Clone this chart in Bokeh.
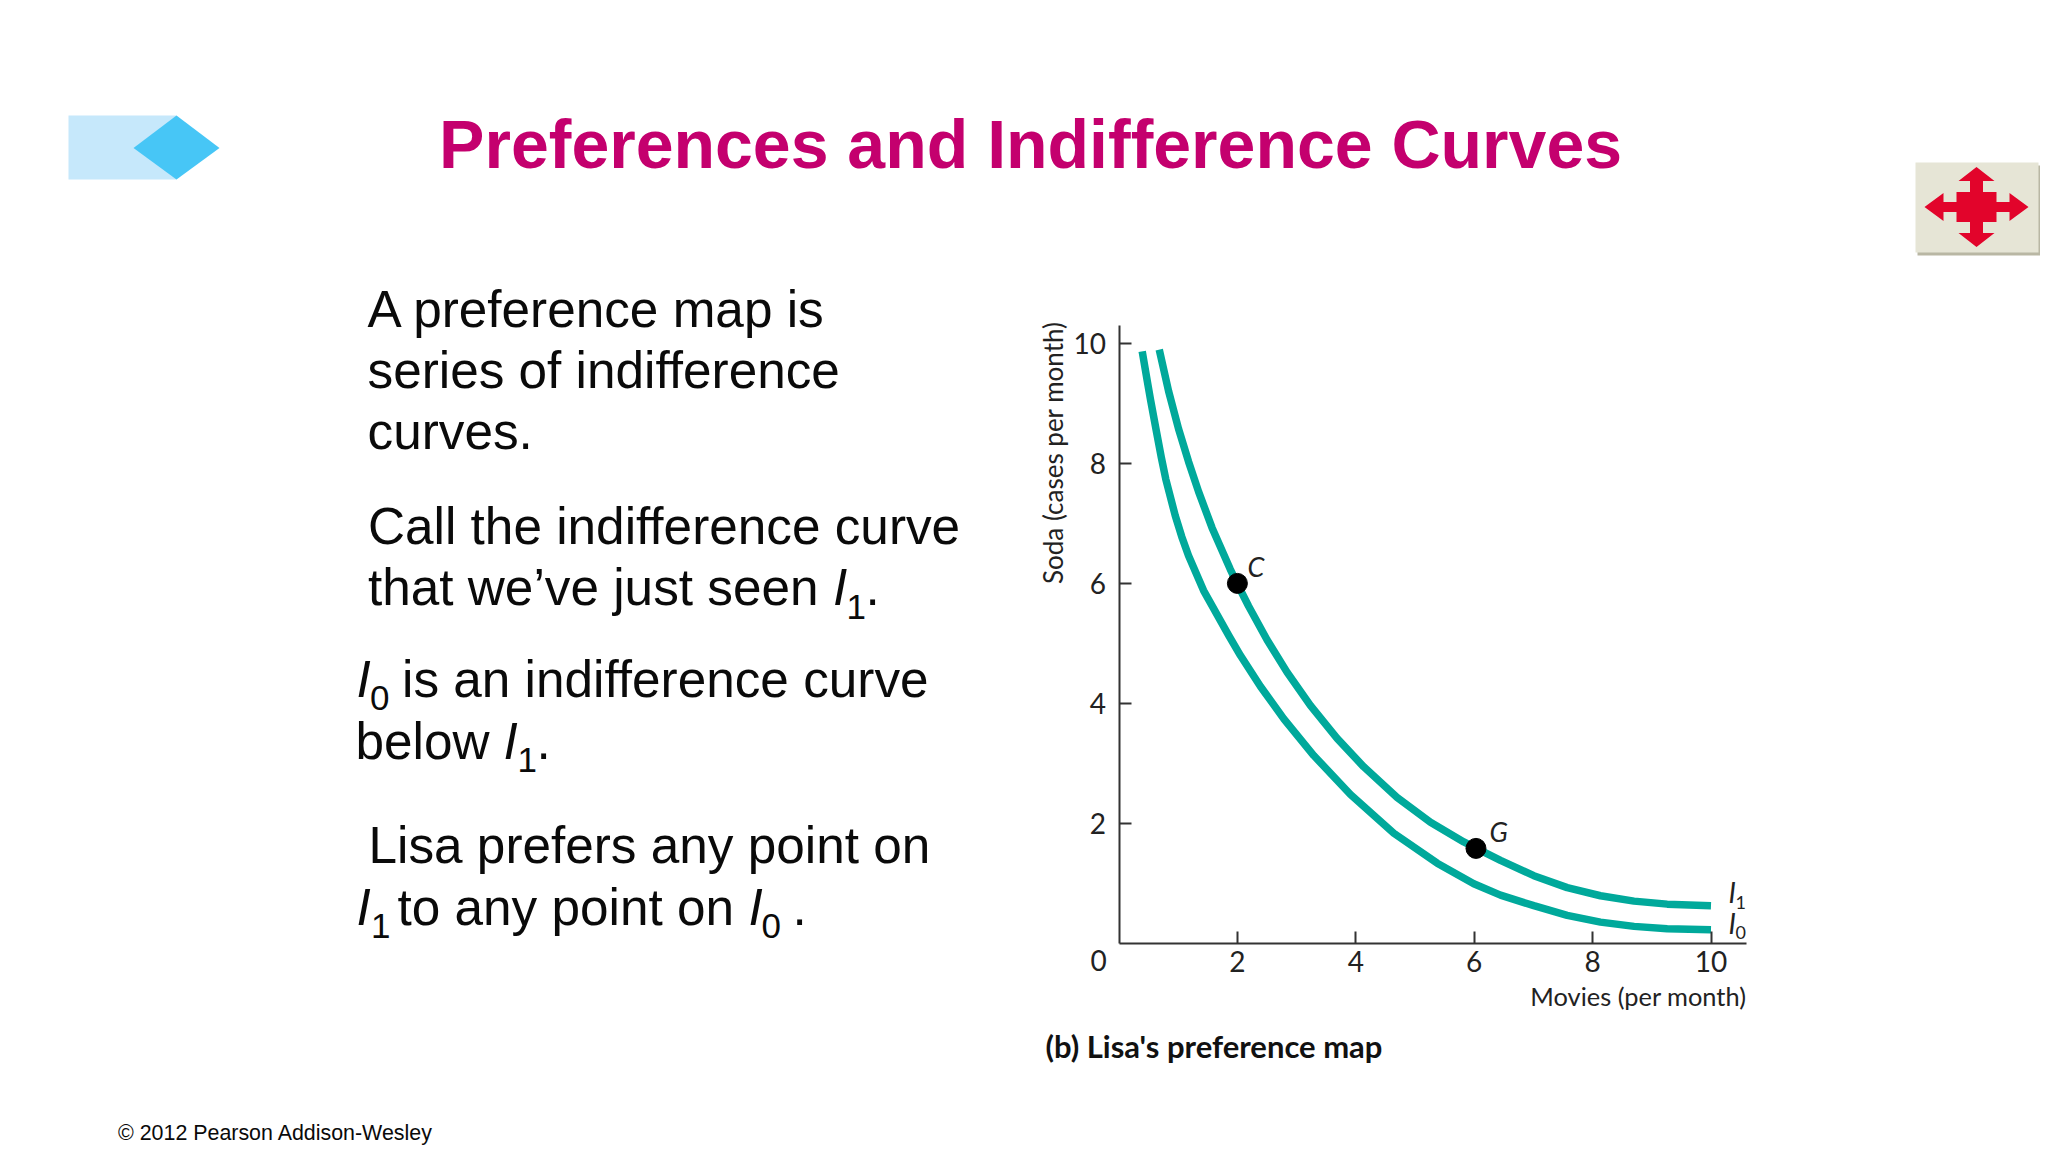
from math import pi
from bokeh.embed import file_html
from bokeh.models import FixedTicker, Label, LinearAxis, Range1d
from bokeh.plotting import figure
from bokeh.resources import INLINE

# ---- data ----
i1_x = [0.68, 0.837, 1.006, 1.175, 1.344, 1.571, 1.88, 2.0, 2.19, 2.5, 2.838, 3.232, 3.684, 4.134, 4.698, 5.261, 5.824, 6.03, 6.444, 7.007, 7.571, 8.133, 8.70, 9.26, 10.0]
i1_y = [9.90, 9.21, 8.577, 8.03, 7.53, 6.93, 6.235, 5.99, 5.62, 5.06, 4.52, 3.965, 3.414, 2.94, 2.43, 2.015, 1.688, 1.585, 1.38, 1.125, 0.925, 0.79, 0.70, 0.65, 0.624]
i0_x = [0.392, 0.48, 0.533, 0.629, 0.715, 0.79, 0.95, 1.06, 1.175, 1.429, 1.855, 2.052, 2.39, 2.784, 3.29, 3.91, 4.642, 5.375, 5.993, 6.444, 7.007, 7.571, 8.133, 8.70, 9.26, 10.0]
i0_y = [9.87, 9.36, 9.06, 8.55, 8.10, 7.74, 7.13, 6.78, 6.46, 5.88, 5.13, 4.797, 4.28, 3.741, 3.129, 2.479, 1.833, 1.333, 0.989, 0.80, 0.624, 0.462, 0.35, 0.279, 0.24, 0.224]
point_x = [2.0, 6.03]
point_y = [6.0, 1.58]
point_names = ["C", "G"]
x_ticks = [2, 4, 6, 8, 10]
y_ticks = [2, 4, 6, 8, 10]
x_label = "Movies (per month)"
y_label = "Soda (cases per month)"
title = "Preferences and Indifference Curves"
caption = "(b) Lisa's preference map"
copyright_text = "© 2012 Pearson Addison-Wesley"

# ---- page position <-> chart scale ----
X0, XU, Y0, YU = 1118.5, 59.2, 942.6, 59.95
def dx(px): return (px - X0) / XU
def dy(py): return (Y0 - py) / YU

W, H = 2040, 1150
p = figure(width=W, height=H, output_backend="svg", toolbar_location=None,
           x_axis_type=None, y_axis_type=None, min_border=0,
           x_range=Range1d(dx(0), dx(W)), y_range=Range1d(dy(H), dy(0)))
p.grid.visible = False
p.outline_line_color = None
p.background_fill_color = "white"
p.border_fill_color = "white"

def shape(xs, ys, color):
    p.patch([dx(v) for v in xs], [dy(v) for v in ys], fill_color=color, line_color=None)

def text(s, x, y, size, font="Liberation Sans", color="#0a0a0a", style="normal", align="left", angle=0):
    shift = 0.39 * size
    if angle:
        x -= shift
    else:
        y -= shift
    p.add_layout(Label(x=dx(x), y=dy(y), text=s, text_font=font, text_font_size=f"{size}px",
                       text_color=color, text_font_style=style, text_align=align,
                       text_baseline="alphabetic", angle=angle))

# left tab
shape([68, 176, 176, 68], [115, 115, 179, 179], "#C6E8FB")
shape([133, 176, 219, 176], [147.5, 115, 147.5, 179], "#47C6F6")

# right button
shape([1917, 2040, 2040, 1917], [165, 165, 255, 255], "#B9B7A4")
shape([1915, 2038, 2038, 1915], [162, 162, 252, 252], "#E6E5D6")
cx, cy = 1976, 206.5
cross_x = [-6.5, -6.5, -18, 0, 18, 6.5, 6.5, 20, 20, 33, 33, 52, 33, 33, 20, 20, 6.5, 6.5, 18, 0, -18, -6.5, -6.5, -20, -20, -33, -33, -52, -33, -33, -20, -20]
cross_y = [-15, -26, -26, -40, -26, -26, -15, -15, -5, -5, -14, 0, 14, 5, 5, 15, 15, 26, 26, 40, 26, 26, 15, 15, 5, 5, 14, 0, -14, -5, -5, -15]
shape([cx + v for v in cross_x], [cy + v for v in cross_y], "#E2042B")

# title and footer
text(title, 438.6, 170, 68, style="bold", color="#C4006E")
text(copyright_text, 117.5, 1141, 21.4)

# slide text
B = 51.3
S = 35
text("A preference map is", 367, 329, B)
text("series of indifference", 367, 390, B)
text("curves.", 367, 451.5, B)
text("Call the indifference curve", 367.5, 546, B)
text("that we’ve just seen", 367.5, 607, B)
text("I", 832.5, 607, B, style="italic")
text("1", 846, 620, S)
text(".", 865, 607, B)
text("I", 356, 699.5, B, style="italic")
text("0", 369.5, 711, S)
text("is an indifference curve", 401.5, 699.5, B)
text("below", 355, 761, B)
text("I", 503, 761, B, style="italic")
text("1", 517, 773, S)
text(".", 536, 761, B)
text("Lisa prefers any point on", 368, 865.5, B)
text("I", 356, 927, B, style="italic")
text("1", 370.5, 939, S)
text("to any point on", 397, 927, B)
text("I", 748, 927, B, style="italic")
text("0", 761, 939, S)
text(".", 792, 927, B)

# curves and points
TEAL = "#00A99B"
p.line(i0_x, i0_y, line_color=TEAL, line_width=7.5, line_join="round")
p.line(i1_x, i1_y, line_color=TEAL, line_width=7.5, line_join="round")
p.scatter(point_x, point_y, size=20, color="black")

# axes
AX = "#333333"
FONT = "Lato"
for ticks, limit, side in ((x_ticks, 10.6, "below"), (y_ticks, 10.3, "left")):
    ax = LinearAxis(fixed_location=0, ticker=FixedTicker(ticks=ticks), bounds=(0, limit))
    ax.axis_line_color = AX
    ax.axis_line_width = 2
    ax.major_tick_line_color = AX
    ax.major_tick_line_width = 2
    ax.major_tick_in = 12
    ax.major_tick_out = 0
    ax.minor_tick_line_color = None
    ax.major_label_text_font = FONT
    ax.major_label_text_font_size = "28px"
    ax.major_label_text_color = "#222222"
    ax.major_label_standoff = 8 if side == "below" else 13
    p.add_layout(ax, side)

text("0", 1098, 971, 28, font=FONT, color="#222222", align="center")
text(x_label, 1746, 1005, 25.4, font=FONT, color="#222222", align="right")
text(y_label, 1062.5, 583.5, 26, font=FONT, color="#222222", angle=pi / 2)
text(caption, 1045, 1057.5, 31, font=FONT, color="#111111", style="bold")

# names on the chart
text(point_names[0], 1247, 577, 27, font=FONT, color="#222222", style="italic")
text(point_names[1], 1489, 842, 27, font=FONT, color="#222222", style="italic")
text("I", 1728, 902, 28, font=FONT, color="#222222", style="italic")
text("1", 1735, 909, 18, font=FONT, color="#222222")
text("I", 1728, 933, 28, font=FONT, color="#222222", style="italic")
text("0", 1735, 939, 18, font=FONT, color="#222222")

open("out.html", "w").write(file_html(p, INLINE))
